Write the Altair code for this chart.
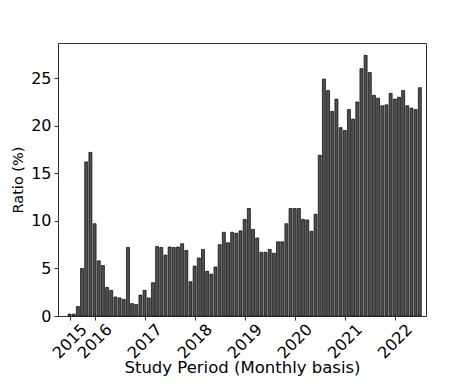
import altair as alt
import pandas as pd

# Monthly study period: Jul 2015 .. Jul 2022
months = [d.strftime("%Y-%m") for d in pd.date_range("2015-07-01", "2022-07-01", freq="MS")]
ratio = [
    0.2, 0.2, 1.0, 5.0, 16.2, 17.2, 9.7, 5.8, 5.3, 3.0, 2.7, 2.0,
    1.9, 1.75, 7.2, 1.3, 1.2, 2.2, 2.7, 1.9, 3.5, 7.3, 7.2, 6.4,
    7.25, 7.2, 7.25, 7.6, 6.9, 3.6, 5.25, 6.1, 7.0, 4.7, 4.4, 5.15,
    7.5, 8.8, 7.7, 8.8, 8.7, 8.95, 10.15, 11.3, 9.1, 8.2, 6.7, 6.7,
    7.0, 6.6, 7.8, 7.8, 9.7, 11.3, 11.3, 11.3, 10.15, 10.1, 8.9, 10.7,
    16.9, 24.9, 23.7, 21.5, 22.8, 19.8, 19.5, 21.7, 20.7, 22.5, 26.0, 27.4,
    25.6, 23.2, 22.9, 22.1, 22.2, 23.4, 22.8, 23.0, 23.7, 22.1, 21.85, 21.7,
    24.0,
]
tick_months = ["2015-07", "2016-01", "2017-01", "2018-01", "2019-01", "2020-01", "2021-01", "2022-01"]
tick_labels = ["2015", "2016", "2017", "2018", "2019", "2020", "2021", "2022"]

df = pd.DataFrame({"month": months, "ratio": ratio, "idx": list(range(len(months)))})
tick_idx = [months.index(m) for m in tick_months]
label_map = "{" + ",".join(f"'{i}':'{l}'" for i, l in zip(tick_idx, tick_labels)) + "}"

chart = alt.Chart(df).mark_bar(
    width=3.0, color="#505050", stroke="#000000", strokeWidth=0.7
).encode(
    x=alt.X("idx:Q",
            scale=alt.Scale(domain=[-1.57, 84.28], nice=False, zero=False),
            axis=alt.Axis(values=tick_idx, labelExpr=f"{label_map}[datum.value]",
                          title="Study Period (Monthly basis)", labelAngle=-45,
                          labelAlign="center", labelBaseline="middle", labelPadding=21,
                          labelOverlap=False, labelFlush=False, labelBound=False,
                          labelFontSize=16, titleFontSize=16.5, tickSize=4, grid=False,
                          titleY=56, titleBaseline="alphabetic")),
    y=alt.Y("ratio:Q",
            scale=alt.Scale(domain=[0, 28.7], nice=False),
            axis=alt.Axis(values=[0, 5, 10, 15, 20, 25], title="Ratio (%)",
                          labelFontSize=16, titleFontSize=14.5, tickSize=4, grid=False,
                          labelPadding=3, titlePadding=5)),
).properties(
    width=368, height=273,
    padding={"left": 50, "top": 35, "right": 30, "bottom": 60},
    autosize=alt.AutoSizeParams(type="none"),
).configure_view(
    stroke="#333333", strokeWidth=1
).configure_axis(
    domainColor="#333333", tickColor="#333333", labelColor="#000000", titleColor="#000000",
    labelFont="DejaVu Sans", titleFont="DejaVu Sans", titleFontWeight="normal",
)

chart.save("out.html", embed_options={"renderer": "svg", "actions": False})
